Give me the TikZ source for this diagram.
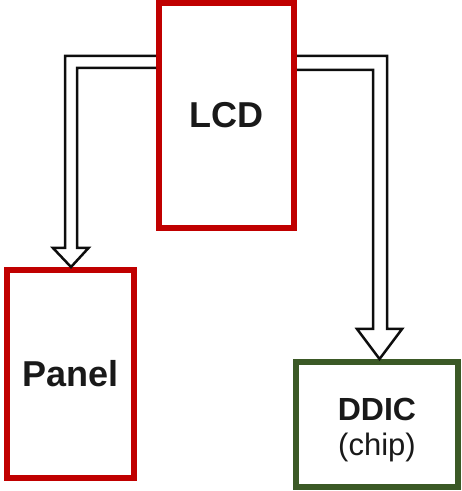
\documentclass[tikz,border=0pt]{standalone}
\usepackage{fontspec}
\setmainfont{Liberation Sans}
\usetikzlibrary{calc}
\definecolor{boxred}{RGB}{192,0,0}
\definecolor{boxgreen}{RGB}{59,89,38}

\begin{document}
\begin{tikzpicture}[x=1pt, y=1pt,
  block/.style = {draw, line width = 6pt, inner sep = 0pt, align = center, text = black!90,
    font = \fontsize{36}{42}\selectfont\bfseries},
  hollow/.style = {line width = 2.5pt, draw = black!95, line join = miter}]
\useasboundingbox (0,0) rectangle (462,491);
\node[block, draw = boxred, minimum width = 135pt, minimum height = 225pt] (lcd) at (226.5,375.5) {LCD};
\node[block, draw = boxred, minimum width = 127pt, minimum height = 208pt] (panel) at (70.5,117) {Panel};
\node[block, draw = boxgreen, minimum width = 162pt, minimum height = 125pt] (ddic) at (377,66.5) {};
\node[align = center, text = black!90, font = \fontsize{32}{35}\selectfont] (ddictext) at ($(ddic)+(0,-6)$)
  {\textbf{DDIC}\\{\fontsize{31}{35}\selectfont(chip)}};
\draw[hollow] ($(lcd.north west)+(0,-56)$) -| ($(panel.north)+(-5.5,19)$) -- ($(panel.north)+(-17.5,19)$)
  -- ($(panel.north)+(0.5,0)$) -- ($(panel.north)+(18,19)$) -- ($(panel.north)+(6.5,19)$) |- ($(lcd.north west)+(0,-68)$);
\draw[hollow] ($(lcd.north east)+(0,-56)$) -| ($(ddic.north)+(10,30)$) -- ($(ddic.north)+(25,30)$)
  -- ($(ddic.north)+(2.5,0)$) -- ($(ddic.north)+(-20,30)$) -- ($(ddic.north)+(-4,30)$) |- ($(lcd.north east)+(0,-70)$);
\end{tikzpicture}
\end{document}
